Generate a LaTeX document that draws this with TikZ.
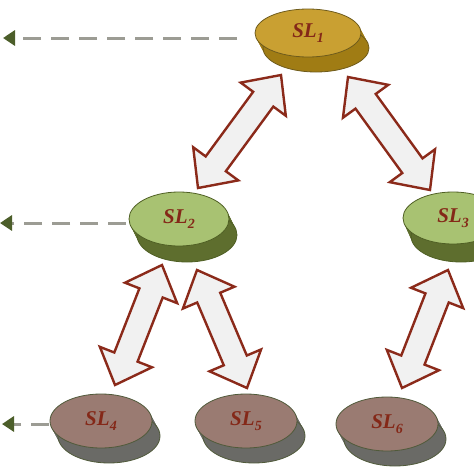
\documentclass[tikz,border=0pt]{standalone}
\usepackage{fontspec}
\setmainfont{Liberation Serif}
\usetikzlibrary{calc,shapes.geometric,arrows.meta}
\definecolor{goldtop}{HTML}{C9A032}
\definecolor{goldside}{HTML}{A07C14}
\definecolor{goldline}{HTML}{6E5B1C}
\definecolor{greentop}{HTML}{A8C272}
\definecolor{greenside}{HTML}{5E6E2E}
\definecolor{greenline}{HTML}{4F5F24}
\definecolor{mauvetop}{HTML}{9A7B72}
\definecolor{mauveside}{HTML}{6A6A66}
\definecolor{mauveline}{HTML}{505A3A}
\definecolor{labelred}{HTML}{842818}
\definecolor{arrowred}{HTML}{8B2A1A}
\definecolor{arrowfill}{HTML}{F1F1F1}
\definecolor{dashgray}{HTML}{9C9C94}
\definecolor{headgreen}{HTML}{4C5E2A}
\tikzset{
  goldside/.style={fill=goldside}, goldline/.style={draw=goldline, line width=0.8pt}, goldtop/.style={fill=goldtop, draw=goldline, line width=0.8pt},
  greenside/.style={fill=greenside}, greenline/.style={draw=greenline, line width=0.8pt}, greentop/.style={fill=greentop, draw=greenline, line width=0.8pt},
  mauveside/.style={fill=mauveside}, mauveline/.style={draw=mauveline, line width=0.8pt}, mauvetop/.style={fill=mauvetop, draw=mauveline, line width=0.8pt},
  disk/.style={ellipse, inner sep=0pt, text=labelred, font=\fontsize{21}{24}\selectfont\bfseries\itshape},
  blockarrow/.style={draw=arrowred, fill=arrowfill, line width=2.4pt, line join=miter},
  dashline/.style={draw=dashgray, line width=3pt, dash pattern=on 18pt off 10pt,
    -{Triangle[length=12pt,width=15pt,color=headgreen]}},
}
\newcommand\hl{30pt}
\newcommand\hw{28pt}
\newcommand\sw{12.5pt}
\newcommand\blockarr[2]{%
\draw[blockarrow] (#1)
 -- ($($(#1)!\hl!(#2)$)!\hw!90:(#2)$)
 -- ($($(#1)!\hl!(#2)$)!\sw!90:(#2)$)
 -- ($($(#2)!\hl!(#1)$)!\sw!-90:(#1)$)
 -- ($($(#2)!\hl!(#1)$)!\hw!-90:(#1)$)
 -- (#2)
 -- ($($(#2)!\hl!(#1)$)!\hw!90:(#1)$)
 -- ($($(#2)!\hl!(#1)$)!\sw!90:(#1)$)
 -- ($($(#1)!\hl!(#2)$)!\sw!-90:(#2)$)
 -- ($($(#1)!\hl!(#2)$)!\hw!-90:(#2)$)
 -- cycle;}
% #1 name, #2 center, #3 rx, #4 ry, #5 dx, #6 dy, #7 colour set, #8 label
\newcommand\disk[8]{%
 \foreach \t in {0.1,0.2,...,1.0}{\fill[#7side] ($(#2)+(\t*#5,\t*#6)$) ellipse [x radius=#3pt, y radius=#4pt];}
 \draw[#7line] ($(#2)+(#5,#6)$) ellipse [x radius=#3pt, y radius=#4pt];
 \node[disk, #7top, minimum width={2*#3pt}, minimum height={2*#4pt}] (#1) at (#2) {#8};
}
\newcommand\sublab[2]{#1\raisebox{-4.5pt}{\fontsize{14}{14}\selectfont #2}}
\begin{document}
\begin{tikzpicture}[x=1pt,y=-1pt]
\useasboundingbox (0,0) rectangle (474,474);
\clip (0,0) rectangle (474,474);
% disks
\disk{sl1}{308,33}{53}{24}{8}{15}{gold}{\sublab{SL}{1}}
\disk{sl2}{179,219}{50}{27}{8}{16}{green}{\sublab{SL}{2}}
\disk{sl3}{453,218}{50}{26}{8}{18}{green}{\sublab{SL}{3}}
\disk{sl4}{101,421}{51}{27}{8}{15}{mauve}{\sublab{SL}{4}}
\disk{sl5}{246,421}{51}{27}{8}{15}{mauve}{\sublab{SL}{5}}
\disk{sl6}{387,424}{51}{27}{8}{15}{mauve}{\sublab{SL}{6}}
% block arrow tips
\coordinate (a1t) at (281,75);  \coordinate (a1b) at (198,188);
\coordinate (a2t) at (348,77);  \coordinate (a2b) at (430,190);
\coordinate (a3t) at (162,265); \coordinate (a3b) at (115,385);
\coordinate (a4t) at (197,270); \coordinate (a4b) at (247,388);
\coordinate (a5t) at (448,270); \coordinate (a5b) at (402,388);
\blockarr{a1t}{a1b}
\blockarr{a2t}{a2b}
\blockarr{a3t}{a3b}
\blockarr{a4t}{a4b}
\blockarr{a5t}{a5b}
% dashed level arrows
\coordinate (d1s) at (237,38); \coordinate (d1e) at (3,38);
\coordinate (d2s) at (126,223); \coordinate (d2e) at (0,223);
\coordinate (d3s) at (49,424); \coordinate (d3e) at (2,424);
\draw[dashline] (d1s) -- (d1e);
\draw[dashline] (d2s) -- (d2e);
\draw[dashline] (d3s) -- (d3e);
\end{tikzpicture}
\end{document}
